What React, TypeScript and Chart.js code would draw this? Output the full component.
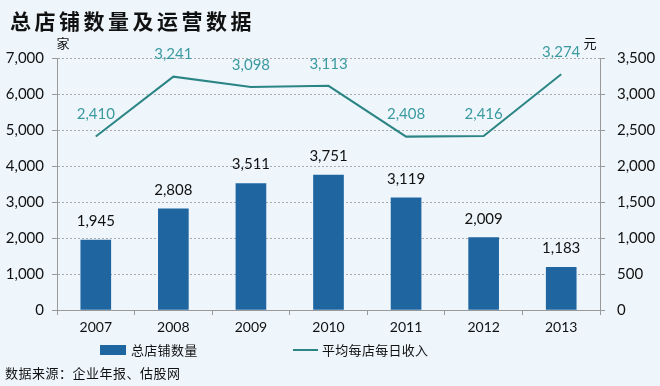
import React, { useEffect, useRef } from "react";
import { Chart, registerables } from "chart.js";

Chart.register(...registerables);

const years = ["2007", "2008", "2009", "2010", "2011", "2012", "2013"];
const storeCounts = [1945, 2808, 3511, 3751, 3119, 2009, 1183];
const dailyRevenue = [2410, 3241, 3098, 3113, 2408, 2416, 3274];
const title = "总店铺数量及运营数据";
const barLabel = "总店铺数量";
const lineLabel = "平均每店每日收入";
const source = "数据来源：企业年报、估股网";

const BAR_COLOR = "#1f66a1";
const LINE_COLOR = "#2b8585";
const LINE_LABEL_COLOR = "#3a9a9f";
const BG = "#eef6fc";
const FONT = "Lato, 'Noto Sans', sans-serif";
const CJK = "'Noto Sans CJK SC', sans-serif";

const fmt = (v: number) => v.toLocaleString("en-US");

const labelsPlugin = {
  id: "valueLabels",
  afterDatasetsDraw(chart: any) {
    const ctx = chart.ctx;
    ctx.save();
    ctx.font = `15px ${FONT}`;
    ctx.textAlign = "center";
    ctx.textBaseline = "middle";
    const barMeta = chart.getDatasetMeta(0);
    barMeta.data.forEach((el: any, i: number) => {
      ctx.fillStyle = "#111";
      ctx.fillText(fmt(storeCounts[i]), el.x, el.y - 19);
    });
    const lineMeta = chart.getDatasetMeta(1);
    lineMeta.data.forEach((el: any, i: number) => {
      ctx.fillStyle = LINE_LABEL_COLOR;
      ctx.fillText(fmt(dailyRevenue[i]), el.x, el.y - 22);
    });
    ctx.font = `13px ${CJK}`;
    ctx.fillStyle = "#111";
    ctx.textAlign = "center";
    const ca = chart.chartArea;
    ctx.fillText("家", ca.left + 6, ca.top - 15);
    ctx.fillText("元", ca.right - 10, ca.top - 15);
    ctx.restore();
  },
};

export default function App() {
  const ref = useRef<HTMLCanvasElement>(null);
  useEffect(() => {
    document.body.style.margin = "0";
    const chart = new Chart(ref.current!, {
      data: {
        labels: years,
        datasets: [
          {
            type: "bar",
            label: barLabel,
            data: storeCounts,
            backgroundColor: BAR_COLOR,
            barThickness: 30,
            yAxisID: "y",
            order: 2,
          },
          {
            type: "line",
            label: lineLabel,
            data: dailyRevenue,
            borderColor: LINE_COLOR,
            borderWidth: 2,
            pointRadius: 0,
            tension: 0,
            yAxisID: "y1",
            order: 1,
          },
        ],
      } as any,
      options: {
        animation: false,
        responsive: false,
        layout: { padding: { left: 0, right: 0, top: 58, bottom: 0 } },
        plugins: { legend: { display: false }, tooltip: { enabled: false } },
        scales: {
          x: {
            offset: true,
            grid: {
              offset: true,
              drawOnChartArea: false,
              tickLength: 5,
              color: "#999",
            },
            border: { color: "#999" },
            ticks: { color: "#111", font: { family: FONT, size: 14 }, padding: 4 },
            afterFit(s: any) {
              s.height = 76;
            },
          },
          y: {
            position: "left",
            min: 0,
            max: 7000,
            ticks: {
              stepSize: 1000,
              color: "#111",
              font: { family: FONT, size: 15 },
              padding: 8,
              callback: (v: any) => fmt(Number(v)),
            },
            grid: {
              color: "#aaa",
              tickLength: 5,
              tickColor: "#999",
            },
            border: { color: "#999", dash: [2, 2] } as any,
            afterFit(s: any) {
              s.width = 57;
            },
          },
          y1: {
            position: "right",
            min: 0,
            max: 3500,
            ticks: {
              stepSize: 500,
              color: "#111",
              font: { family: FONT, size: 15 },
              padding: 12,
              callback: (v: any) => fmt(Number(v)),
            },
            grid: { drawOnChartArea: false, tickLength: 5, color: "#999" },
            border: { color: "#999" },
            afterFit(s: any) {
              s.width = 60;
            },
          },
        },
      } as any,
      plugins: [labelsPlugin],
    });
    return () => chart.destroy();
  }, []);

  const legendText = {
    fontFamily: CJK,
    fontSize: 13,
    color: "#111",
    letterSpacing: 0.3,
    whiteSpace: "nowrap" as const,
  };

  return (
    <div
      style={{
        position: "relative",
        width: 660,
        height: 386,
        background: BG,
        overflow: "hidden",
      }}
    >
      <canvas ref={ref} width={660} height={386} style={{ position: "absolute", left: 0, top: 0 }} />
      <div
        style={{
          position: "absolute",
          left: 10,
          top: 5,
          fontFamily: CJK,
          fontWeight: 700,
          fontSize: 21,
          letterSpacing: 3.5,
          color: "#111",
          whiteSpace: "nowrap",
        }}
      >
        {title}
      </div>
      <div style={{ position: "absolute", left: 100, top: 340, display: "flex", alignItems: "center", ...legendText }}>
        <span style={{ display: "inline-block", width: 26, height: 10, background: BAR_COLOR, marginRight: 5 }} />
        {barLabel}
      </div>
      <div style={{ position: "absolute", left: 293, top: 340, display: "flex", alignItems: "center", ...legendText }}>
        <span style={{ display: "inline-block", width: 25, height: 2, background: LINE_COLOR, marginRight: 4 }} />
        {lineLabel}
      </div>
      <div
        style={{
          position: "absolute",
          left: 5,
          top: 363,
          fontFamily: CJK,
          fontSize: 13,
          color: "#111",
          letterSpacing: 0.5,
          whiteSpace: "nowrap",
        }}
      >
        {source}
      </div>
    </div>
  );
}
